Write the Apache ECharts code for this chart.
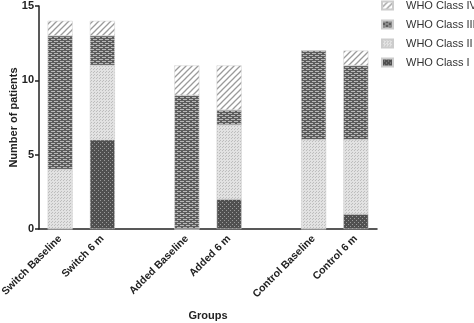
<!DOCTYPE html>
<html><head><meta charset="utf-8">
<script src="https://cdn.jsdelivr.net/npm/echarts@6/dist/echarts.min.js"></script>
<style>html,body{margin:0;padding:0;background:#fff}#c{width:474px;height:323px}</style>
</head><body><div id="c"></div>
<script>
const categories = ['Switch Baseline','Switch 6 m','','Added Baseline','Added 6 m','','Control Baseline','Control 6 m'];
const classI   = [0, 6, null, 0, 2, null, 0, 1];
const classII  = [4, 5, null, 0, 5, null, 6, 5];
const classIII = [9, 2, null, 9, 1, null, 6, 5];
const classIV  = [1, 1, null, 2, 3, null, 0, 1];
const yTicks = [0, 5, 10, 15];

function pat(w, h, draw) {
  const c = document.createElement('canvas'); c.width = w; c.height = h;
  const g = c.getContext('2d'); draw(g, w, h);
  return {image: c, repeat: 'repeat'};
}
const pI = pat(4, 4, (g) => { g.fillStyle = '#505050'; g.fillRect(0,0,4,4); g.fillStyle = '#9a9a9a'; g.fillRect(0,0,1,1); g.fillRect(2,2,1,1); });
const pII = pat(3, 3, (g) => { g.fillStyle = '#e2e2e2'; g.fillRect(0,0,3,3); g.fillStyle = '#bdbdbd'; g.fillRect(0,0,1,1); g.fillRect(1,2,1,1); });
const pIII = pat(6, 4, (g) => { g.fillStyle = '#5c5c5c'; g.fillRect(0,0,6,4); g.fillStyle = '#b8b8b8'; g.fillRect(0,1,4,1); g.fillRect(3,3,4,1); g.fillRect(0,3,1,1); });
const pIV = pat(6, 6, (g) => { g.fillStyle = '#ffffff'; g.fillRect(0,0,6,6); g.strokeStyle = '#9a9a9a'; g.lineWidth = 1.3;
  g.beginPath(); g.moveTo(-1,7); g.lineTo(7,-1); g.moveTo(-1,1); g.lineTo(1,-1); g.moveTo(5,7); g.lineTo(7,5); g.stroke(); });

const chart = echarts.init(document.getElementById('c'));
const font = 'Liberation Sans, Arial, sans-serif';
function s(name, data, p) {
  return {name, type: 'bar', stack: 'a', data, barWidth: 25,
    itemStyle: {color: p, borderColor: '#cccccc', borderWidth: 0.5}};
}
chart.setOption({
  animation: false,
  textStyle: {fontFamily: font},
  grid: {left: 39, right: 97, top: 6, bottom: 94, containLabel: false, outerBoundsMode: 'none'},
  legend: {
    orient: 'vertical', left: 381, top: 0, padding: 0, itemWidth: 11, itemHeight: 8, itemGap: 8,
    icon: 'rect',
    data: ['WHO Class IV','WHO Class III','WHO Class II','WHO Class I'],
    textStyle: {fontSize: 11, color: '#333', fontFamily: font, padding: [0, 0, 0, 8]}
  },
  xAxis: {
    type: 'category', data: categories,
    name: 'Groups', nameLocation: 'middle', nameGap: 81, nameMoveOverlap: false,
    nameTextStyle: {fontWeight: 'bold', fontSize: 11, color: '#222'},
    axisLine: {lineStyle: {color: '#222', width: 1.5}},
    axisTick: {alignWithLabel: true, length: 4, lineStyle: {color: '#222', width: 1.5}},
    axisLabel: {rotate: 45, fontWeight: 'bold', fontSize: 10.5, color: '#222', interval: 0, margin: 8}
  },
  yAxis: {
    type: 'value', min: 0, max: 15, interval: 5,
    name: 'Number of patients', nameLocation: 'middle', nameGap: 20, nameMoveOverlap: false,
    nameTextStyle: {fontWeight: 'bold', fontSize: 11, color: '#222'},
    axisLine: {show: true, lineStyle: {color: '#222', width: 1.5}},
    axisTick: {show: true, length: 4, lineStyle: {color: '#222', width: 1.5}},
    splitLine: {show: false},
    axisLabel: {fontWeight: 'bold', fontSize: 11, color: '#222', margin: 5,
      formatter: v => yTicks.includes(v) ? String(v) : ''}
  },
  series: [s('WHO Class I', classI, pI), s('WHO Class II', classII, pII), s('WHO Class III', classIII, pIII), s('WHO Class IV', classIV, pIV)]
});
</script></body></html>
